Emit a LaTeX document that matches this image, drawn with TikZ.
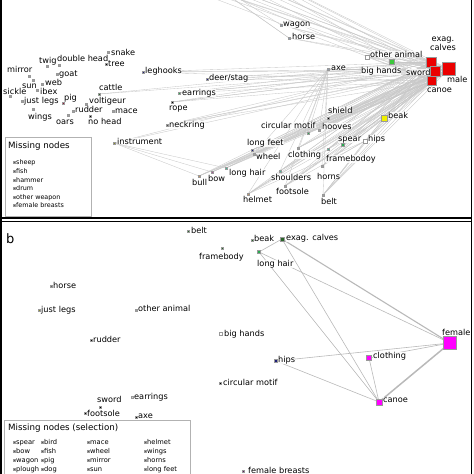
\documentclass[tikz,border=0pt]{standalone}
\usepackage{fontspec}
\setmainfont{DejaVu Sans}
\pgfdeclarelayer{bg}
\pgfsetlayers{bg,main}
\definecolor{mgray}{RGB}{160,160,160}
\definecolor{navyc}{RGB}{30,30,120}
\definecolor{dgreen}{RGB}{40,100,40}
\definecolor{mgreen}{RGB}{40,170,80}
\definecolor{lgreen}{RGB}{60,200,60}
\definecolor{tealc}{RGB}{60,190,150}
\definecolor{tanc}{RGB}{200,150,100}
\definecolor{mauve}{RGB}{170,80,150}
\definecolor{olivec}{RGB}{140,140,40}
\definecolor{pigred}{RGB}{150,20,50}
\definecolor{redsq}{RGB}{235,0,0}
\definecolor{mag}{RGB}{255,0,255}
\definecolor{yel}{RGB}{240,240,0}
\definecolor{bluegray}{RGB}{140,155,175}
\definecolor{purp}{RGB}{90,20,90}
\definecolor{edgec}{RGB}{200,200,200}
\newcommand\labfont{\fontsize{8.2}{9}\selectfont}
\newcommand\gn[8]{%
  \node[labl] (#1-l) at (#6,#7+3) {#8};
  \node[nodemk, minimum size=#4pt, fill=#5] (#1) at (#2,#3) {};}
\newcommand\mitem[4]{%
  \node[nodemk, minimum size=2pt, fill=gray!70!black] (#1) at (#2-2,#3) {};
  \node[itemlab] (#1-l) at (#2,#3+2) {#4};}
\tikzset{
  nodemk/.style={rectangle, inner sep=0pt, outer sep=0pt, draw=black!40, line width=0.2pt},
  labl/.style={anchor=base west, inner sep=0pt, font=\labfont, fill=white, fill opacity=0.8, text opacity=1},
  itemlab/.style={anchor=base west, inner sep=0pt, font=\fontsize{6.4}{7}\selectfont},
  boxtitle/.style={anchor=base west, inner sep=0pt, font=\fontsize{8.7}{10}\selectfont},
  ed/.style={draw=edgec, line width=0.35pt},
  edb/.style={draw=gray!55, line width=0.6pt},
  frame/.style={line width=1.6pt, draw=black}
}
\begin{document}
\begin{tikzpicture}[x=1pt,y=-1pt]
\useasboundingbox (0,0) rectangle (474,474);
% ---------------- panel a ----------------
\gn{asnake}{108}{52}{2.4}{mgray}{111}{52}{snake}
\gn{atree}{106}{64}{2.4}{black}{108}{63}{tree}
\gn{adhead}{59}{65}{2.2}{mgray}{57}{58}{double head}
\gn{atwig}{47}{66}{2.2}{mgray}{39}{60}{twig}
\gn{amirror}{29}{76}{2.2}{mgray}{7}{69}{mirror}
\gn{agoat}{57}{74}{2.2}{mgray}{59}{73}{goat}
\gn{asun}{33}{80}{2.2}{mgray}{22}{85}{sun}
\gn{aweb}{42}{84}{2.2}{mgray}{45}{82}{web}
\gn{aibex}{37}{90}{2.2}{mgray}{40}{91}{ibex}
\gn{asickle}{10}{96}{2.2}{mgray}{3}{91}{sickle}
\gn{ajust}{22}{101}{2}{mgray}{24}{100}{just legs}
\gn{apig}{63}{103}{2.4}{pigred}{64}{97}{pig}
\gn{acattle}{99}{94}{2.4}{dgreen}{99}{87}{cattle}
\gn{avolt}{86}{104}{2.2}{mgray}{89}{100}{voltigeur}
\gn{arudder}{73}{111}{2.2}{mgray}{75}{109}{rudder}
\gn{amace}{113}{111}{2.2}{mgray}{115}{110}{mace}
\gn{awings}{33}{109}{2.2}{mgray}{28}{116}{wings}
\gn{aoars}{68}{115}{2.2}{mgray}{56}{121}{oars}
\gn{anohead}{90}{116}{2.4}{black}{88}{121}{no head}
\gn{aleg}{143}{72}{2.6}{navyc}{145}{70}{leghooks}
\gn{adeer}{207}{79}{2.6}{navyc}{209}{77}{deer/stag}
\gn{aear}{179}{93}{2.6}{mgreen}{182}{92}{earrings}
\gn{arope}{172}{102}{2.4}{black}{169}{107}{rope}
\gn{aneck}{167}{125}{2.4}{black!70}{169}{124}{neckring}
\gn{ainstr}{114}{143}{2.4}{olivec}{117}{141}{instrument}
\gn{abull}{199}{176}{2.4}{tanc}{192}{182}{bull}
\gn{abow}{212}{172}{2.4}{mauve}{208}{178}{bow}
\gn{along}{226}{168}{2.6}{tealc}{229}{172}{long hair}
\gn{alfeet}{252}{150}{2.6}{navyc}{247}{142}{long feet}
\gn{awheel}{254}{154}{2.2}{mgray}{256}{156}{wheel}
\gn{ahelmet}{248}{194}{2.4}{tanc}{243}{199}{helmet}
\gn{ashould}{280}{171}{2.8}{tealc}{271}{177}{shoulders}
\gn{afoot}{285}{186}{2.2}{mgray}{276}{191}{footsole}
\gn{acloth}{298}{148}{2.2}{mgray}{288}{154}{clothing}
\gn{acirc}{308}{133}{2.8}{mgreen}{261}{125}{circular motif}
\gn{ahoov}{319}{130}{2.6}{mgray}{322}{126}{hooves}
\gn{ashield}{328}{118}{2.8}{black}{328}{110}{shield}
\gn{aspear}{343}{145}{3}{mgreen}{338}{138}{spear}
\gn{ahips}{365}{141}{3.4}{white}{368}{138}{hips}
\gn{aframe}{328}{149}{2.8}{tealc}{326}{158}{framebodoy}
\gn{ahorns}{322}{166}{2.4}{mgray}{317}{176}{horns}
\gn{abelt}{323}{195}{2.6}{mgray}{321}{201}{belt}
\gn{abeak}{384}{118}{6}{yel}{388}{115}{beak}
\gn{awagon}{281}{25}{2.4}{bluegray}{283}{23}{wagon}
\gn{ahorse}{289}{38}{2.4}{bluegray}{292}{36}{horse}
\gn{aother}{367}{57}{4}{white}{370}{54}{other animal}
\gn{abig}{392}{62}{5}{lgreen}{361}{70}{big hands}
\gn{aaxe}{328}{69}{2.6}{bluegray}{331}{67}{axe}
\node[labl, align=center, anchor=center] (aexag-l) at (443,44) {exag.\\calves};
\node[nodemk, minimum size=10pt, fill=redsq] (aexag) at (431,62) {};
\gn{asword}{435}{71}{10}{redsq}{406}{72}{sword}
\gn{acanoe}{432}{81}{9}{redsq}{427}{89}{canoe}
\gn{amale}{449}{69}{13}{redsq}{447}{79}{male}
% missing nodes box a
\node[draw=gray!60, line width=0.6pt, fill=white, inner sep=0pt, minimum width=86pt, minimum height=79pt, anchor=north west] (aboxa) at (5,137) {};
\node[boxtitle] (aboxa-t) at (8,148) {Missing nodes};
\mitem{ama}{16}{162}{sheep}
\mitem{amb}{16}{171}{fish}
\mitem{amc}{16}{180}{hammer}
\mitem{amd}{16}{188}{drum}
\mitem{ame}{16}{197}{other weapon}
\mitem{amf}{16}{205}{female breasts}
% edges a
\coordinate (up1) at (60,-60);
\coordinate (up2) at (100,-60);
\coordinate (up3) at (150,-60);
\coordinate (up4) at (170,-45);
\coordinate (up5) at (190,-60);
\begin{pgfonlayer}{bg}
\begin{scope}
\clip (2,-5) rectangle (471,217);
\foreach \h in {amale,asword,acanoe,aexag}{
  \foreach \t in {aleg,adeer,aear,arope,aneck,along,abow,abull,alfeet,awheel,ahelmet,ashould,afoot,acloth,acirc,ahoov,ashield,aspear,ahips,aframe,ahorns,abelt,abeak,aaxe,abig,aother,up1,up2,up3,up5}{
    \draw[ed] (\h.center) -- (\t.center);
  }
}
\foreach \h in {amale,aexag}{
  \foreach \t in {awagon,ahorse,acattle,ainstr}{
    \draw[ed] (\h.center) -- (\t.center);
  }
}
\foreach \t in {abelt,ahorns,ahelmet,afoot,ashould,acloth,ahoov,acirc,awheel}{
  \draw[ed] (aaxe.center) -- (\t.center);
}
\foreach \t in {along,abow,abull}{
  \draw[ed] (ainstr.center) -- (\t.center);
}
\foreach \t in {abelt,ahorns,ahelmet,afoot}{
  \draw[ed] (ahips.center) -- (\t.center);
  \draw[ed] (abeak.center) -- (\t.center);
}
\draw[ed] (up4) -- (awagon.center);
\draw[ed] (up4) -- (ahorse.center);
\draw[ed] (up3) -- (ahorse.center);
\end{scope}
\end{pgfonlayer}
% ---------------- frames ----------------
\draw[frame] (1.2,-5) -- (1.2,480);
\draw[frame] (471.5,-5) -- (471.5,480);
\draw[frame] (1.2,218) -- (471.5,218);
\draw[line width=1pt] (1.2,221.6) -- (471.5,221.6);
% ---------------- panel b ----------------
\node[anchor=base west, inner sep=0pt, font=\fontsize{13}{14}\selectfont] (blab) at (6,243) {b};
\gn{bbelt}{188}{231}{2.4}{dgreen}{191}{230}{belt}
\gn{bframe}{222}{248}{2.4}{dgreen}{199}{256}{framebody}
\gn{bbeak}{252}{240}{2.4}{dgreen}{254}{238}{beak}
\gn{bexag}{282}{239}{3.6}{dgreen}{286}{237}{exag. calves}
\gn{blong}{259}{252}{3}{mgreen}{257}{263}{long hair}
\gn{bhorse}{51}{286}{2.4}{black!60}{53}{285}{horse}
\gn{bjust}{39}{310}{2.4}{olivec}{41}{309}{just legs}
\gn{bother}{136}{310}{2.4}{mgray}{138}{308}{other animal}
\gn{brudder}{91}{340}{2.4}{black}{93}{339}{rudder}
\gn{bbig}{221}{334}{3}{white}{224}{333}{big hands}
\gn{bhips}{276}{361}{3}{navyc}{278}{359}{hips}
\gn{bcirc}{220}{383}{2.6}{black}{223}{382}{circular motif}
\gn{bsword}{100}{407}{2.4}{black}{97}{399}{sword}
\gn{bear}{132}{397}{2.4}{mgray!50}{134}{396}{earrings}
\gn{bfoot}{85}{413}{2.6}{black}{87}{413}{footsole}
\gn{baxe}{136}{417}{2.4}{black}{138}{415}{axe}
\gn{bfbr}{243}{471}{2.4}{purp}{248}{470}{female breasts}
\gn{bfemale}{450}{343}{13}{mag}{442}{332}{female}
\gn{bcloth}{369}{358}{5}{mag}{373}{355}{clothing}
\gn{bcanoe}{379}{402}{6}{mag}{383}{399}{canoe}
% missing nodes box b
\node[draw=gray!60, line width=0.6pt, fill=white, inner sep=0pt, minimum width=186pt, minimum height=70pt, anchor=north west] (aboxb) at (4,420) {};
\node[boxtitle] (aboxb-t) at (8,430) {Missing nodes (selection)};
\tikzset{itemlab/.style={anchor=base west, inner sep=0pt, font=\fontsize{6.7}{8}\selectfont}}
\mitem{bm1}{16}{442}{spear}
\mitem{bm2}{16}{451}{bow}
\mitem{bm3}{16}{460}{wagon}
\mitem{bm4}{16}{469}{plough}
\mitem{bm5}{44}{442}{bird}
\mitem{bm6}{44}{451}{fish}
\mitem{bm7}{44}{460}{pig}
\mitem{bm8}{44}{469}{dog}
\mitem{bm9}{90}{442}{mace}
\mitem{bm10}{90}{451}{wheel}
\mitem{bm11}{90}{460}{mirror}
\mitem{bm12}{90}{469}{sun}
\mitem{bm13}{147}{442}{helmet}
\mitem{bm14}{147}{451}{wings}
\mitem{bm15}{147}{460}{horns}
\mitem{bm16}{147}{469}{long feet}
% edges b
\begin{pgfonlayer}{bg}
\draw[edb, line width=1.1pt] (bexag.center) -- (bfemale.center);
\draw[edb] (bexag.center) -- (bcanoe.center);
\draw[edb] (bexag.center) -- (blong.center);
\draw[edb] (blong.center) -- (bfemale.center);
\draw[edb] (blong.center) -- (bcanoe.center);
\draw[edb] (bhips.center) -- (bfemale.center);
\draw[edb] (bhips.center) -- (bcanoe.center);
\draw[edb] (bcloth.center) -- (bfemale.center);
\draw[edb] (bcloth.center) -- (bcanoe.center);
\draw[edb, line width=1.5pt] (bcanoe.center) -- (bfemale.center);
\end{pgfonlayer}
\end{tikzpicture}
\end{document}
